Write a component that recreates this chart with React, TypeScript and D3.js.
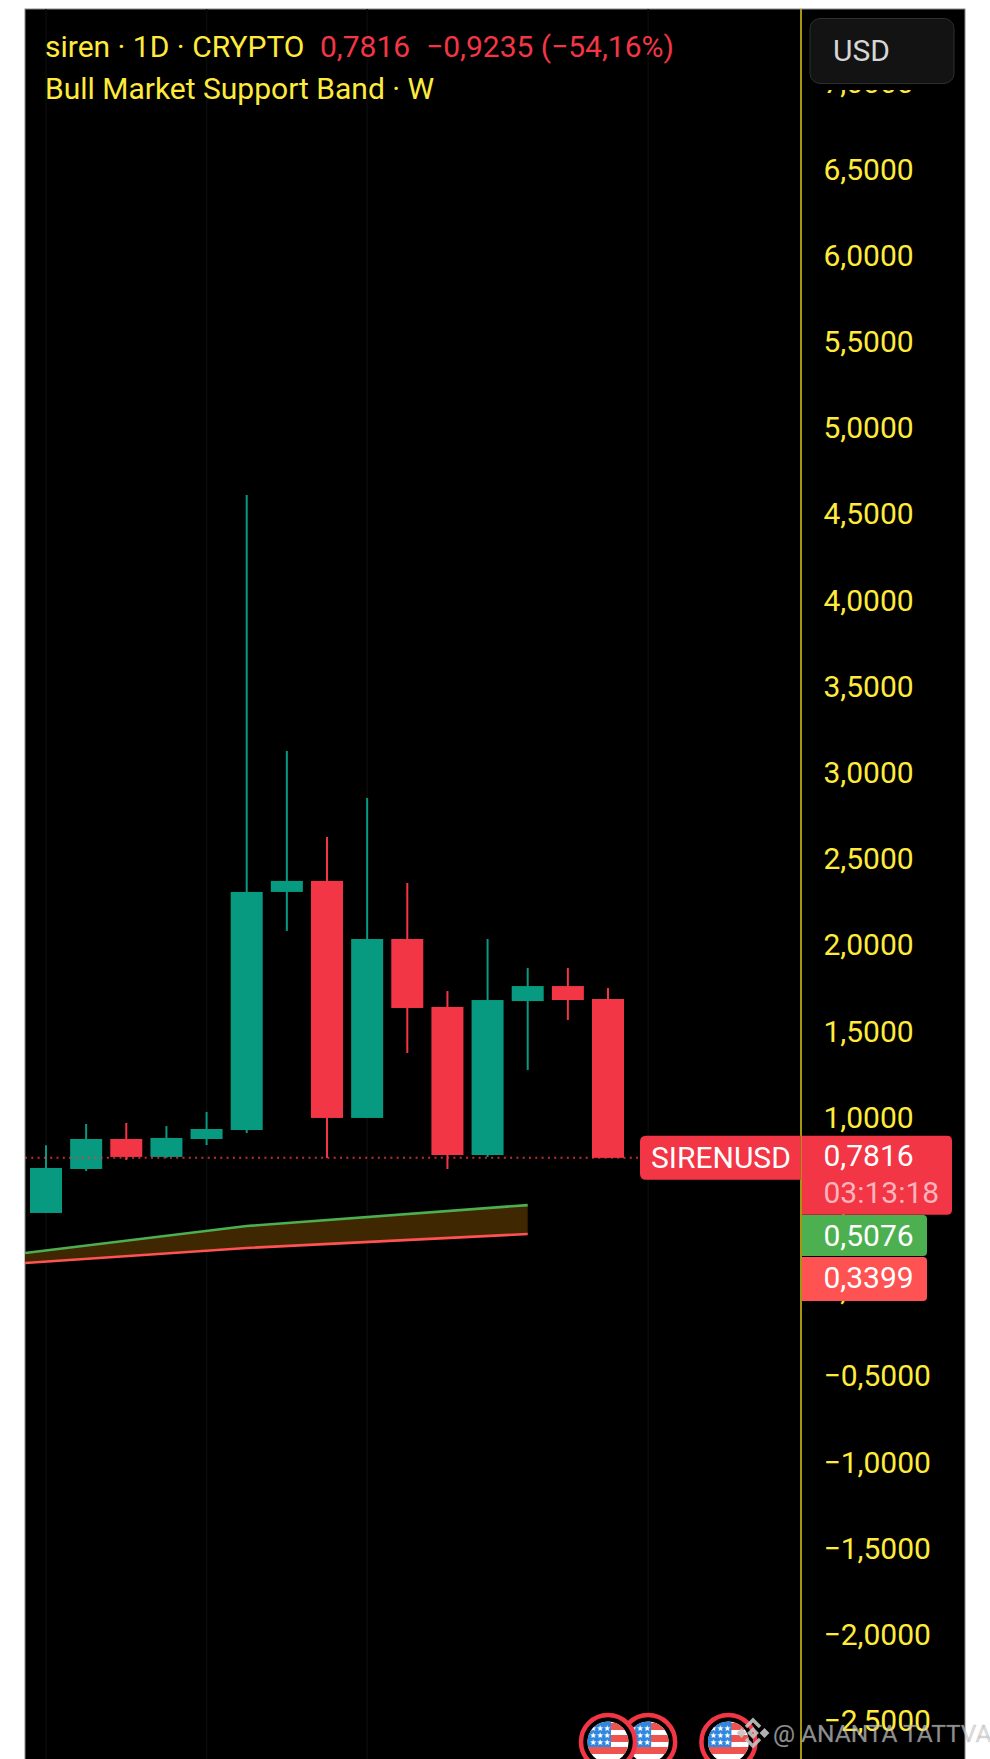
import React, { useEffect, useRef } from "react";
import * as d3 from "d3";

// Daily candles
const opens = [0.462, 0.717, 0.891, 0.787, 0.891, 0.943, 2.324, 2.388, 1.013, 2.051, 1.657, 0.798, 1.691, 1.778, 1.703];
const highs = [0.854, 0.978, 0.984, 0.966, 1.048, 4.626, 3.142, 2.643, 2.869, 2.376, 1.749, 2.051, 1.883, 1.883, 1.767];
const lows = [0.462, 0.705, 0.769, 0.781, 0.856, 0.926, 2.098, 0.781, 1.013, 1.39, 0.717, 0.787, 1.291, 1.581, 0.7816];
const closes = [0.723, 0.891, 0.787, 0.897, 0.949, 2.324, 2.388, 1.013, 2.051, 1.651, 0.798, 1.697, 1.778, 1.697, 0.7816];

// Bull Market Support Band (weekly, so only a few knots show)
const bandIndex = [-0.52, 5, 12];
const bandUpper = [0.23, 0.386, 0.5076];
const bandLower = [0.172, 0.259, 0.3399];

const priceTicks = [7, 6.5, 6, 5.5, 5, 4.5, 4, 3.5, 3, 2.5, 2, 1.5, 1, 0.5, 0, -0.5, -1, -1.5, -2, -2.5];
const gridIndex = [0, 4, 8, 15];
const eventIndex = [15, 14, 17];

const lastPrice = 0.7816;
const titleParts = ["siren · 1D · CRYPTO", "0,7816", "−0,9235 (−54,16%)"];
const indicatorName = "Bull Market Support Band · W";

const RED = "#f23645";
const GREEN = "#089981";
const YELLOW = "#ffeb3b";
const FONT = "Roboto, sans-serif";

export default function App() {
  const svgRef = useRef<SVGSVGElement>(null);

  useEffect(() => {
    if (!svgRef.current) return;
    const svg = d3.select(svgRef.current);
    svg.selectAll("*").remove();

    const width = 990;
    const height = 1759;
    const left = 25;
    const right = 965;
    const top = 9;
    const axisX = 801;

    const x = d3.scaleLinear().domain([0, 14]).range([46, 608]);
    const y = d3.scaleLinear().domain([0, 1]).range([1292.6, 1120.2]);
    const bodyWidth = 32;

    const locale = d3.formatLocale({
      decimal: ",",
      thousands: ".",
      grouping: [3],
      currency: ["", ""],
      minus: "−",
    });
    const fmt = locale.format(".4f");

    svg.append("rect").attr("width", width).attr("height", height).attr("fill", "#fff");
    svg
      .append("rect")
      .attr("x", left)
      .attr("y", top)
      .attr("width", right - left)
      .attr("height", height - top + 5)
      .attr("fill", "#000")
      .attr("stroke", "#8a8a8a")
      .attr("stroke-width", 1);

    // Grid lines
    svg
      .append("g")
      .selectAll("line")
      .data(gridIndex)
      .enter()
      .append("line")
      .attr("x1", (d) => x(d))
      .attr("x2", (d) => x(d))
      .attr("y1", top)
      .attr("y2", height)
      .attr("stroke", "#0b0b0b")
      .attr("stroke-width", 1.5);

    const plot = svg.append("g");
    svg
      .append("clipPath")
      .attr("id", "plot-clip")
      .append("rect")
      .attr("x", left)
      .attr("y", top)
      .attr("width", axisX - left)
      .attr("height", height - top);
    plot.attr("clip-path", "url(#plot-clip)");

    // Band
    const bandRows = bandIndex.map((d, i) => ({ i: d, up: bandUpper[i], lo: bandLower[i] }));
    plot
      .append("path")
      .attr(
        "d",
        d3
          .area<{ i: number; up: number; lo: number }>()
          .x((d) => x(d.i))
          .y0((d) => y(d.lo))
          .y1((d) => y(d.up))(bandRows)
      )
      .attr("fill", "#3f2702");
    plot
      .append("path")
      .attr("d", d3.line<{ i: number; up: number; lo: number }>().x((d) => x(d.i)).y((d) => y(d.up))(bandRows))
      .attr("fill", "none")
      .attr("stroke", "#4caf50")
      .attr("stroke-width", 2.6);
    plot
      .append("path")
      .attr("d", d3.line<{ i: number; up: number; lo: number }>().x((d) => x(d.i)).y((d) => y(d.lo))(bandRows))
      .attr("fill", "none")
      .attr("stroke", "#ff5252")
      .attr("stroke-width", 2.6);

    // Candles
    const candles = plot
      .selectAll(".candle")
      .data(opens.map((o, i) => ({ i, o, h: highs[i], l: lows[i], c: closes[i] })))
      .enter()
      .append("g")
      .attr("class", "candle");
    const colorOf = (d: { o: number; c: number }) => (d.c >= d.o ? GREEN : RED);
    candles
      .append("line")
      .attr("x1", (d) => x(d.i))
      .attr("x2", (d) => x(d.i))
      .attr("y1", (d) => y(d.h))
      .attr("y2", (d) => y(d.l))
      .attr("stroke", colorOf)
      .attr("stroke-width", 2);
    candles
      .append("rect")
      .attr("x", (d) => x(d.i) - bodyWidth / 2)
      .attr("y", (d) => y(Math.max(d.o, d.c)))
      .attr("width", bodyWidth)
      .attr("height", (d) => Math.abs(y(d.o) - y(d.c)))
      .attr("fill", colorOf);

    // Last price line
    plot
      .append("line")
      .attr("x1", left)
      .attr("x2", 640)
      .attr("y1", y(lastPrice))
      .attr("y2", y(lastPrice))
      .attr("stroke", RED)
      .attr("stroke-opacity", 0.8)
      .attr("stroke-width", 2)
      .attr("stroke-dasharray", "2 4.3");

    // Price axis
    const axis = svg
      .append("g")
      .attr("transform", `translate(${axisX},0)`)
      .call(
        d3
          .axisRight(y)
          .tickValues(priceTicks)
          .tickSize(0)
          .tickPadding(22.5)
          .tickFormat((d) => fmt(d as number))
      );
    axis.select(".domain").remove();
    axis
      .selectAll("text")
      .attr("dy", "7px")
      .attr("fill", YELLOW)
      .attr("font-family", FONT)
      .attr("font-size", 30);

    // Legend pane hides the top tick
    svg
      .append("rect")
      .attr("x", axisX + 1)
      .attr("y", top + 1)
      .attr("width", right - axisX - 2)
      .attr("height", 80)
      .attr("fill", "#000");

    svg
      .append("line")
      .attr("x1", axisX)
      .attr("x2", axisX)
      .attr("y1", top)
      .attr("y2", height)
      .attr("stroke", "#a8950f")
      .attr("stroke-width", 2);

    // USD button
    svg
      .append("rect")
      .attr("x", 810)
      .attr("y", 18.5)
      .attr("width", 144)
      .attr("height", 65)
      .attr("rx", 10)
      .attr("fill", "#131313")
      .attr("stroke", "#2e2e2e");
    svg
      .append("text")
      .attr("x", 833)
      .attr("y", 61)
      .attr("fill", "#d6d6d6")
      .attr("font-family", FONT)
      .attr("font-size", 30)
      .text("USD");

    // Header
    const header = svg.append("g").attr("font-family", FONT).attr("font-size", 30);
    header.append("text").attr("x", 45).attr("y", 57).attr("fill", YELLOW).text(titleParts[0]);
    header.append("text").attr("x", 320).attr("y", 57).attr("fill", RED).text(titleParts[1]);
    header.append("text").attr("x", 426).attr("y", 57).attr("fill", RED).text(titleParts[2]);
    header.append("text").attr("x", 45).attr("y", 99).attr("fill", YELLOW).text(indicatorName);

    // Price labels
    const labels = svg.append("g").attr("font-family", FONT).attr("font-size", 30);
    const rr = (x0: number, y0: number, w: number, h: number, rl: number, rrad: number) =>
      `M${x0 + rl},${y0}H${x0 + w - rrad}Q${x0 + w},${y0} ${x0 + w},${y0 + rrad}V${y0 + h - rrad}Q${x0 + w},${y0 + h} ${x0 + w - rrad},${y0 + h}H${x0 + rl}Q${x0},${y0 + h} ${x0},${y0 + h - rl}V${y0 + rl}Q${x0},${y0} ${x0 + rl},${y0}Z`;
    const ly = y(lastPrice);
    labels.append("path").attr("d", rr(640, ly - 22, 161, 44, 6, 0)).attr("fill", RED);
    labels.append("path").attr("d", rr(802, ly - 22, 150, 79, 0, 5)).attr("fill", RED);
    labels.append("path").attr("d", rr(802, y(bandUpper[2]) + 10, 125, 41, 0, 4)).attr("fill", "#4caf50");
    labels.append("path").attr("d", rr(802, y(bandLower[2]) + 23, 125, 44, 0, 4)).attr("fill", "#ff5252");
    labels.append("text").attr("x", 651).attr("y", ly + 10.5).attr("fill", "#fff").text("SIRENUSD");
    labels.append("text").attr("x", 823.5).attr("y", ly + 8.5).attr("fill", "#fff").text(fmt(lastPrice));
    labels.append("text").attr("x", 823.5).attr("y", ly + 45.5).attr("fill", "#fbb4bb").text("03:13:18");
    labels.append("text").attr("x", 823.5).attr("y", y(bandUpper[2]) + 41).attr("fill", "#fff").text(fmt(bandUpper[2]));
    labels.append("text").attr("x", 823.5).attr("y", y(bandLower[2]) + 54).attr("fill", "#fff").text(fmt(bandLower[2]));

    // Event flags along the bottom
    const fy = 1742;
    const flags = svg.append("g").selectAll("g").data(eventIndex).enter().append("g");
    flags.each(function (d, k) {
      const g = d3.select(this).attr("transform", `translate(${x(d)},${fy})`);
      const id = `flag-${k}`;
      g.append("circle").attr("r", 27).attr("fill", "#000").attr("stroke", RED).attr("stroke-width", 4.5);
      g.append("clipPath").attr("id", id).append("circle").attr("r", 20.5);
      const inner = g.append("g").attr("clip-path", `url(#${id})`);
      inner.append("rect").attr("x", -21).attr("y", -21).attr("width", 42).attr("height", 42).attr("fill", "#fff");
      d3.range(4).forEach((s) => {
        inner
          .append("rect")
          .attr("x", -21)
          .attr("y", -19 + s * 12)
          .attr("width", 42)
          .attr("height", 7)
          .attr("fill", "#ef5350");
      });
      inner.append("rect").attr("x", -21).attr("y", -21).attr("width", 24).attr("height", 26).attr("fill", "#2f87e0");
      d3.range(3).forEach((row) => {
        d3.range(3).forEach((col) => {
          inner
            .append("text")
            .attr("x", -15 + col * 7)
            .attr("y", -11 + row * 7)
            .attr("text-anchor", "middle")
            .attr("font-size", 8)
            .attr("fill", "#fff")
            .attr("font-family", "DejaVu Sans")
            .text("★");
        });
      });
    });

    // Watermark
    const mark = svg
      .append("g")
      .attr("transform", "translate(753,1733)")
      .attr("fill", "none")
      .attr("stroke", "#c4c4c4")
      .attr("stroke-opacity", 0.9)
      .attr("stroke-width", 3.4);
    mark.append("path").attr("d", "M-7,-6L0,-13L7,-6");
    mark.append("path").attr("d", "M-7,6L0,13L7,6");
    mark.append("path").attr("d", "M-3.5,0L0,-3.5L3.5,0L0,3.5Z");
    mark.append("path").attr("d", "M-14,0L-11.5,-2.5L-9,0L-11.5,2.5Z");
    mark.append("path").attr("d", "M14,0L11.5,-2.5L9,0L11.5,2.5Z");
    svg
      .append("text")
      .attr("x", 773)
      .attr("y", 1742)
      .attr("font-family", FONT)
      .attr("font-size", 24.5)
      .attr("fill", "#cfcfcf")
      .attr("fill-opacity", 0.7)
      .attr("stroke", "#8f8f8f")
      .attr("stroke-opacity", 0.35)
      .attr("stroke-width", 0.6)
      .text("@ ANANTA TATTVA");
  }, []);

  return (
    <svg
      ref={svgRef}
      width={990}
      height={1759}
      viewBox="0 0 990 1759"
      style={{ position: "absolute", left: 0, top: 0, display: "block" }}
    />
  );
}
